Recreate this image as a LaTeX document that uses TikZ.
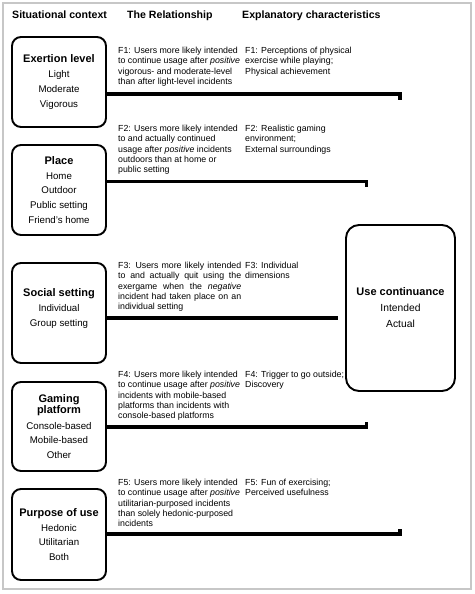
\documentclass[tikz,border=0pt]{standalone}
\usepackage{fontspec}
\setmainfont{Liberation Sans}
\begin{document}
\begin{tikzpicture}[x=1pt,y=-1pt,
  ctx/.style={draw=black, line width=1.9pt, rounded corners=9pt, align=center,
    font=\fontsize{9.7}{14.8}\selectfont, inner sep=0pt, minimum width=94pt},
  hdr/.style={anchor=base west, font=\fontsize{10.6}{12}\selectfont\bfseries, inner sep=0pt},
  rel/.style={anchor=north west, align=left, font=\fontsize{8.8}{10.3}\selectfont, inner sep=0pt},
  conn/.style={line width=3.3pt}]
\useasboundingbox (0,0) rectangle (474,594);
\draw[black!22, line width=1.5pt] (3,3) rectangle (471,589);

% headers
\node[hdr] (h1) at (12,19) {Situational context};
\node[hdr] (h2) at (127,19) {The Relationship};
\node[hdr] (h3) at (242,19) {Explanatory characteristics};

% context boxes
\node[ctx, minimum height=90pt] (b1) at (59,82)
  {{\fontsize{11}{13}\selectfont\bfseries Exertion level}\\ Light\\ Moderate\\ Vigorous};
\node[ctx, minimum height=90pt] (b2) at (59,190)
  {{\fontsize{11}{13}\selectfont\bfseries Place}\\ Home\\ Outdoor\\ Public setting\\ Friend's home};
\node[ctx, minimum height=100pt] (b3) at (59,313)
  {{\fontsize{11}{13}\selectfont\bfseries Social setting}\\[0.5pt] Individual\\ Group setting\\[-4pt]\mbox{}};
\node[ctx, minimum height=89pt] (b4) at (59,426.5)
  {{\fontsize{11}{13}\selectfont\bfseries Gaming}\\[-3.6pt]{\fontsize{11}{13}\selectfont\bfseries platform}\\[1pt] Console-based\\ Mobile-based\\ Other};
\node[ctx, minimum height=91pt] (b5) at (59,534.5)
  {{\fontsize{11}{13}\selectfont\bfseries Purpose of use}\\ Hedonic\\ Utilitarian\\ Both};

% outcome box
\node[ctx, rounded corners=13pt, minimum width=109pt, minimum height=166pt,
  font=\fontsize{10.3}{16}\selectfont] (uc) at (400.5,308)
  {{\fontsize{11}{13}\selectfont\bfseries Use continuance}\\ Intended\\ Actual};

% relationship texts
\node[rel] (r1) at (118,47) {F1: Users more likely intended\\to continue usage after \textit{positive}\\vigorous- and moderate-level\\than after light-level incidents};
\node[rel] (r2) at (118,125) {F2: Users more likely intended\\to and actually continued\\usage after \textit{positive} incidents\\outdoors than at home or\\public setting};
\node[rel, align=justify, text width=123pt] (r3) at (118,262) {\hyphenpenalty=10000 F3: Users more likely intended\linebreak to and actually quit using the\linebreak exergame when the \textit{negative}\linebreak incident had taken place on an\linebreak individual setting};
\node[rel] (r4) at (118,371) {F4: Users more likely intended\\to continue usage after \textit{positive}\\incidents with mobile-based\\platforms than incidents with\\console-based platforms};
\node[rel] (r5) at (118,479) {F5: Users more likely intended\\to continue usage after \textit{positive}\\utilitarian-purposed incidents\\than solely hedonic-purposed\\incidents};

% explanatory texts
\node[rel] (x1) at (245,47) {F1: Perceptions of physical\\exercise while playing;\\Physical achievement};
\node[rel] (x2) at (245,125) {F2: Realistic gaming\\environment;\\External surroundings};
\node[rel] (x3) at (245,262) {F3: Individual\\dimensions};
\node[rel] (x4) at (245,371) {F4: Trigger to go outside;\\Discovery};
\node[rel] (x5) at (245,479) {F5: Fun of exercising;\\Perceived usefulness};

% connector ends
\coordinate (e1) at (400,99.5);
\coordinate (e2) at (366.5,187);
\coordinate (e3) at (338,318);
\coordinate (e4) at (366.5,421.5);
\coordinate (e5) at (400,528.5);

% connectors
\draw[conn] (b1.east |- 0,94) -| (e1);
\draw[conn] (b2.east |- 0,181.5) -| (e2);
\draw[conn] (b3.east |- 0,318) -- (e3);
\draw[conn] (b4.east |- 0,427) -| (e4);
\draw[conn] (b5.east |- 0,534) -| (e5);
\end{tikzpicture}
\end{document}
